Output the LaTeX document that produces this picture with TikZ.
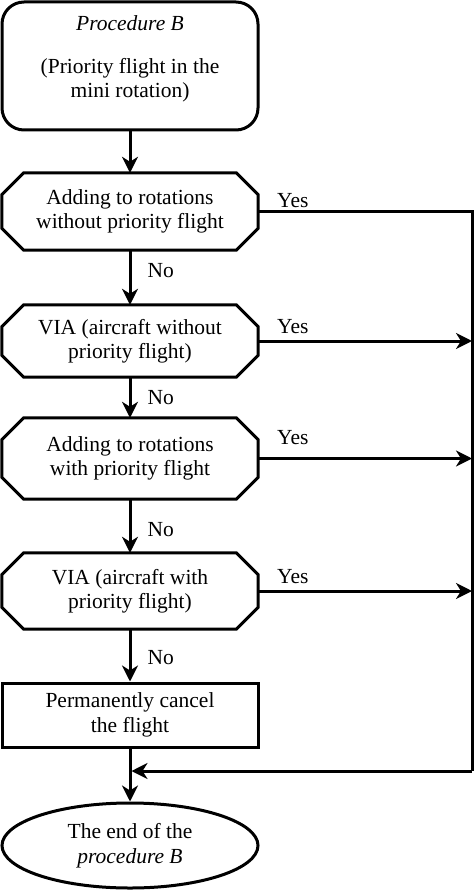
\documentclass[tikz,border=0pt]{standalone}
\usepackage{fontspec}
\setmainfont{Liberation Serif}
\usetikzlibrary{arrows.meta,shapes.geometric}
\begin{document}
\begin{tikzpicture}[x=1pt,y=-1pt,
  every node/.style={font=\fontsize{21.5}{24.5}\selectfont, align=center, inner sep=0pt},
  ln/.style={line width=3pt},
  arr/.style={ln, -{Stealth[length=16pt,width=16pt,inset=5pt]}},
  startbox/.style={draw, ln, rounded corners=22pt, minimum width=256pt, minimum height=128pt},
  octbox/.style={minimum width=256pt, minimum height=#1},
  procbox/.style={draw, ln, minimum width=256pt, minimum height=64pt},
  endbox/.style={draw, ln, ellipse, minimum width=256pt, minimum height=85pt},
  lbl/.style={anchor=south west}
]
\useasboundingbox (0,0) rectangle (474,890);

\node[startbox] (s) at (130,66) {};
\node (st) at (130,59) {\textit{Procedure B}\\[18pt](Priority flight in the\\mini rotation)};

\node[octbox=77pt] (d1) at (130,211.5) {Adding to rotations\\without priority flight};
\node[octbox=72pt] (d2) at (130,341) {VIA (aircraft without\\priority flight)};
\node[octbox=81pt] (d3) at (130,458.5) {Adding to rotations\\with priority flight};
\node[octbox=76pt] (d4) at (130,591) {VIA (aircraft with\\priority flight)};
\node[procbox] (p) at (130,715) {Permanently cancel\\the flight};
\node[endbox] (e) at (130,845.5) {The end of the\\\textit{procedure B}};

\foreach \n in {d1,d2,d3,d4}
  \draw[ln, line join=miter] ([xshift=22pt]\n.north west) -- ([xshift=-22pt]\n.north east)
    -- ([yshift=-22pt]\n.north east) -- ([yshift=22pt]\n.south east)
    -- ([xshift=-22pt]\n.south east) -- ([xshift=22pt]\n.south west)
    -- ([yshift=22pt]\n.south west) -- ([yshift=-22pt]\n.north west) -- cycle;

\coordinate (rtop) at (472,211.5);
\coordinate (rbot) at (472,771);
\coordinate (join) at (131.5,771);

\draw[arr] (s) -- (d1);
\draw[arr] (d1) -- node[right=16pt, yshift=7pt] (n1) {No} (d2);
\draw[arr] (d2) -- node[right=16pt] (n2) {No} (d3);
\draw[arr] (d3) -- node[right=16pt, yshift=-4pt] (n3) {No} (d4);
\draw[arr] (d4) -- node[right=16pt, yshift=-2pt] (n4) {No} (p);
\draw[arr] (p) -- (e);

\draw[ln] (d1.east) -- (rtop) -- (rbot);
\draw[arr] (rbot) -- (join);
\draw[arr] (d2.east) -- (d2.east -| rtop);
\draw[arr] (d3.east) -- (d3.east -| rtop);
\draw[arr] (d4.east) -- (d4.east -| rtop);

\node[lbl] (y1) at (277,208) {Yes};
\node[lbl] (y2) at (277,334) {Yes};
\node[lbl] (y3) at (277,445) {Yes};
\node[lbl] (y4) at (277,584) {Yes};
\end{tikzpicture}
\end{document}
